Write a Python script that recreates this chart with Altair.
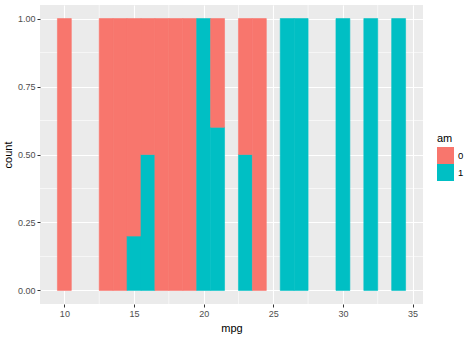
import altair as alt
import pandas as pd

# Histogram (binwidth 1, bins centred on integers), position = "fill"
bin_lo   = [9.5, 12.5, 13.5, 14.5, 15.5, 16.5, 17.5, 18.5, 19.5, 20.5, 22.5, 23.5, 25.5, 26.5, 29.5, 31.5, 33.5]
n_am0    = [2,   1,    1,    4,    1,    1,    2,    3,    0,    2,    1,    1,    0,    0,    0,    0,    0]
n_am1    = [0,   0,    0,    1,    1,    0,    0,    0,    1,    3,    1,    0,    1,    1,    2,    1,    1]
binwidth = 1.0

x_ticks = [10, 15, 20, 25, 30, 35]
y_ticks = [0.0, 0.25, 0.5, 0.75, 1.0]
x_minor = [12.5, 17.5, 22.5, 27.5, 32.5]
y_minor = [0.125, 0.375, 0.625, 0.875]

rows = []
for lo, a0, a1 in zip(bin_lo, n_am0, n_am1):
    tot = a0 + a1
    f1 = a1 / tot
    if a1 > 0:
        rows.append(dict(lo=lo, hi=lo + binwidth, y0=0.0, y1=f1, am="1"))
    if a0 > 0:
        rows.append(dict(lo=lo, hi=lo + binwidth, y0=f1, y1=1.0, am="0"))
df = pd.DataFrame(rows)

xs = alt.Scale(domain=[8.25, 35.75], nice=False, zero=False)
ys = alt.Scale(domain=[-0.05, 1.05], nice=False, zero=False)
cs = alt.Scale(domain=["0", "1"], range=["#F8766D", "#00BFC4"])

grid_x = alt.Chart(pd.DataFrame({"x": x_minor})).mark_rule(color="white", strokeWidth=0.6).encode(
    x=alt.X("x:Q", scale=xs))
grid_y = alt.Chart(pd.DataFrame({"y": y_minor})).mark_rule(color="white", strokeWidth=0.6).encode(
    y=alt.Y("y:Q", scale=ys))

bars = alt.Chart(df).mark_rect(strokeWidth=0.6).encode(
    x=alt.X("lo:Q", scale=xs, title="mpg",
            axis=alt.Axis(values=x_ticks, format="d", grid=True)),
    x2="hi:Q",
    y=alt.Y("y0:Q", scale=ys, title="count",
            axis=alt.Axis(values=y_ticks, format=".2f", grid=True)),
    y2="y1:Q",
    stroke=alt.Stroke("am:N", scale=cs, legend=None),
    color=alt.Color("am:N", title="am", scale=cs,
                    legend=alt.Legend(orient="none", legendX=397, legendY=128,
                                      symbolType="square", symbolSize=289,
                                      symbolStrokeWidth=0, symbolOpacity=1,
                                      rowPadding=0, labelOffset=4,
                                      titleFontSize=11, labelFontSize=9.5,
                                      titleFont="Liberation Sans", labelFont="Liberation Sans",
                                      titleFontWeight="normal", titleColor="black",
                                      labelColor="black", titlePadding=3)),
)

chart = alt.layer(grid_x, grid_y, bars).properties(
    width=383, height=299,
    autosize=alt.AutoSizeParams(type="none"),
    padding={"left": 40, "top": 5, "right": 51, "bottom": 34},
).configure_view(
    fill="#EBEBEB", stroke=None
).configure_axis(
    domain=False, gridColor="white", gridWidth=1.1,
    tickColor="#333333", tickSize=3, tickWidth=1,
    labelColor="#4D4D4D", labelFontSize=9, labelFont="Liberation Sans",
    titleFont="Liberation Sans", titleFontSize=11, titleFontWeight="normal",
    titleColor="black", labelPadding=2,
).configure_axisY(
    titlePadding=4
).configure_axisX(
    titlePadding=4
)

chart.save("out.html", embed_options={"renderer": "svg", "actions": False})
